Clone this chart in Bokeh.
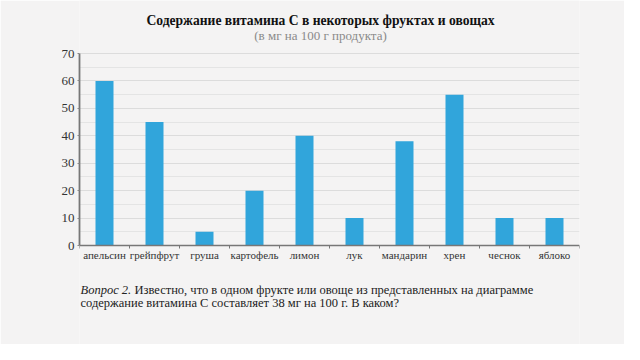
from bokeh.plotting import figure
from bokeh.models import Label, FixedTicker, Range1d
from bokeh.embed import file_html
from bokeh.resources import INLINE

categories = ["апельсин", "грейпфрут", "груша", "картофель", "лимон",
              "лук", "мандарин", "хрен", "чеснок", "яблоко"]
values = [60, 45, 5, 20, 40, 10, 38, 55, 10, 10]
y_ticks = [0, 10, 20, 30, 40, 50, 60, 70]
y_minor = [5, 15, 25, 35, 45, 55, 65]

title_text = "Содержание витамина С в некоторых фруктах и овощах"
subtitle_text = "(в мг на 100 г продукта)"
question_lead = "Вопрос 2."
question_line1 = "Известно, что в одном фрукте или овоще из представленных на диаграмме"
question_line2 = "содержание витамина С составляет 38 мг на 100 г. В каком?"

BG = "#f4f3f3"
FONT = "Liberation Serif"

W, H = 624, 344
FL, FR = 79, 579          # frame left / right (pixels)
Y_TOP, Y_ZERO = 53, 245   # pixel rows of value 70 and value 0
YMAX = 70
PX_PER_UNIT = (Y_ZERO - Y_TOP) / YMAX
# the frame spans the whole canvas height so that all texts can be placed as labels
y_hi = YMAX + Y_TOP / PX_PER_UNIT
y_lo = -(H - Y_ZERO) / PX_PER_UNIT

p = figure(width=W, height=H, output_backend="svg", toolbar_location=None, title=None,
           x_range=Range1d(0, len(categories)), y_range=Range1d(y_lo, y_hi),
           min_border_left=FL, min_border_right=W - FR, min_border_top=0,
           min_border_bottom=0)
p.background_fill_color = BG
p.border_fill_color = BG
p.outline_line_color = None

centers = [i + 0.5 for i in range(len(categories))]
p.vbar(x=centers, top=values, width=0.36, color="#31a5db", line_color=None)

# x axis, drawn at value 0
p.xaxis.fixed_location = 0
p.xaxis.ticker = FixedTicker(ticks=centers, minor_ticks=list(range(len(categories) + 1)))
p.xaxis.major_label_overrides = {c: n for c, n in zip(centers, categories)}
p.xaxis.major_tick_line_color = None
p.xaxis.major_tick_out = 0
p.xaxis.major_tick_in = 0
p.xaxis.minor_tick_out = 3
p.xaxis.minor_tick_in = 0
p.xaxis.minor_tick_line_color = "#777777"
p.xaxis.axis_line_color = "#777777"
p.xaxis.axis_line_width = 1.3
p.xaxis.major_label_text_font = FONT
p.xaxis.major_label_text_font_size = "11px"
p.xaxis.major_label_text_color = "#333333"
p.xaxis.major_label_standoff = 0
p.xgrid.grid_line_color = None

# y axis
p.yaxis.ticker = FixedTicker(ticks=y_ticks, minor_ticks=y_minor)
p.yaxis.bounds = (0, YMAX)
p.yaxis.major_tick_out = 2
p.yaxis.major_tick_in = 0
p.yaxis.minor_tick_line_color = None
p.yaxis.major_tick_line_color = "#888888"
p.yaxis.axis_line_color = "#777777"
p.yaxis.axis_line_width = 1.8
p.yaxis.major_label_text_font = FONT
p.yaxis.major_label_text_font_size = "13px"
p.yaxis.major_label_text_color = "#333333"
p.yaxis.major_label_standoff = 1
p.ygrid.grid_line_color = "#dcdcdc"
p.ygrid.minor_grid_line_color = "#e4e4e4"

# texts: screen units relative to the frame's bottom-left corner
def add_label(X, Y, text, size, color="#222222", style="normal", align="left"):
    p.add_layout(Label(x=X - FL, y=H - Y, x_units="screen", y_units="screen", text=text,
                       text_font=FONT, text_font_size=size, text_color=color,
                       text_font_style=style, text_align=align, text_baseline="middle"))

add_label(320, 19.5, title_text, "13.6px", "#111111", "bold", "center")
add_label(320, 35, subtitle_text, "13px", "#8a8a8a", "normal", "center")
add_label(80, 289, question_lead, "12.5px", "#222222", "italic")
add_label(134, 289, question_line1, "12.5px", "#222222")
add_label(80, 302, question_line2, "12.5px", "#222222")

open("out.html", "w").write(file_html(p, INLINE))
